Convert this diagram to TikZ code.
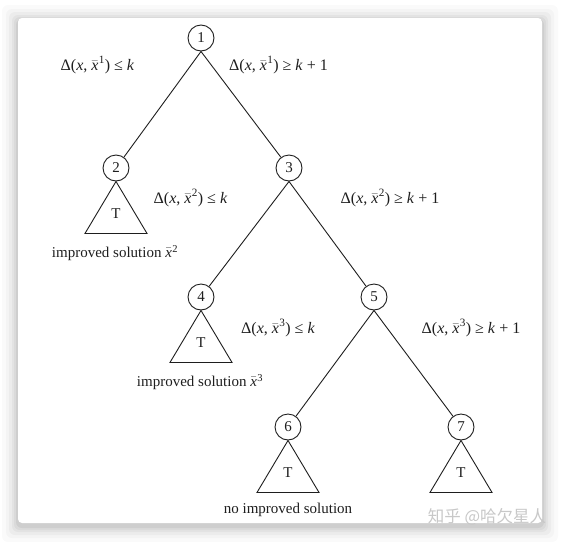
\documentclass[tikz,border=0pt]{standalone}
\usepackage{fontspec}
\setmainfont{Liberation Serif}
\newfontfamily\cjkfont{Noto Sans CJK SC}
\usetikzlibrary{positioning}
\definecolor{inkgray}{RGB}{30,30,30}
\definecolor{markgray}{RGB}{200,200,200}
% distance constraint, set in the text font
\newcommand{\xbar}[1]{$\bar{\mbox{\itshape x}}$\kern0.3pt\textsuperscript{#1}}
\newcommand{\dcon}[2]{Δ(\textit{x}, \xbar{#1}) #2}

\begin{document}
\begin{tikzpicture}[x=1pt, y=-1pt,
  every node/.style={font=\fontsize{15}{18}\selectfont, text=inkgray},
  bbnode/.style={circle, draw=inkgray, line width=0.9pt, minimum size=26pt, inner sep=0pt},
  subtree/.style={draw=inkgray, line width=0.9pt},
  branch/.style={draw=inkgray, line width=0.9pt},
  cond/.style={font=\fontsize{16}{19}\selectfont}]
  % Page and card with soft shadow
  \useasboundingbox (0,0) rectangle (561,541);
  \fill[white] (0,0) rectangle (561,541);
  \foreach \d/\o in {16/0.02,12/0.025,9/0.03,6/0.035,4/0.04,2/0.05}{
    \fill[black, opacity=\o, rounded corners=6pt] (18-\d,18-\d+3) rectangle (542+\d,523+\d+3);
  }
  \fill[white, rounded corners=4pt] (18,18) rectangle (542,523);

  % Tree nodes
  \node[bbnode] (n1) at (201,38) {1};
  \node[bbnode] (n2) at (116,168) {2};
  \node[bbnode] (n3) at (289,168) {3};
  \node[bbnode] (n4) at (201,297) {4};
  \node[bbnode] (n5) at (374,297) {5};
  \node[bbnode] (n6) at (288,427) {6};
  \node[bbnode] (n7) at (461,427) {7};

  % Branches
  \draw[branch] (n1.south) -- (n2);
  \draw[branch] (n1.south) -- (n3);
  \draw[branch] (n3.south) -- (n4);
  \draw[branch] (n3.south) -- (n5);
  \draw[branch] (n5.south) -- (n6);
  \draw[branch] (n5.south) -- (n7);

  % Subtrees
  \foreach \n in {2,4,6,7}{
    \draw[subtree] (n\n.south) -- ++(-31,52) -- ++(62,0) -- cycle;
    \node (t\n) at ([yshift=-32pt]n\n.south) {T};
  }

  % Branching constraints
  \node[cond] (c1) at (97.5,65)  {\dcon{1}{≤ \textit{k}}};
  \node[cond] (c2) at (278.5,65) {\dcon{1}{≥ \textit{k} + 1}};
  \node[cond] (c3) at (190.5,198) {\dcon{2}{≤ \textit{k}}};
  \node[cond] (c4) at (390,198)  {\dcon{2}{≥ \textit{k} + 1}};
  \node[cond] (c5) at (278,328)  {\dcon{3}{≤ \textit{k}}};
  \node[cond] (c6) at (471,328)  {\dcon{3}{≥ \textit{k} + 1}};

  % Outcomes
  \node (o2) at (115,253) {improved solution \xbar{2}};
  \node (o4) at (200,382) {improved solution \xbar{3}};
  \node (o6) at (288,510) {no improved solution};

  % Watermark
  \node[text=markgray, font=\cjkfont\fontsize{16.5}{18}\selectfont] (wm) at (487,517) {知乎 @哈欠星人};
\end{tikzpicture}
\end{document}
